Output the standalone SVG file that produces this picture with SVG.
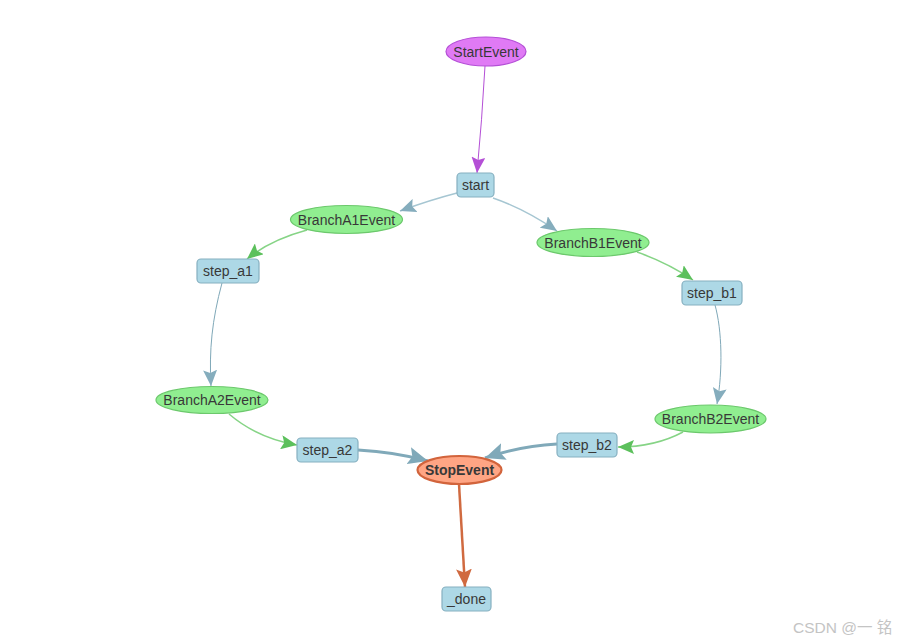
<svg xmlns="http://www.w3.org/2000/svg" width="901" height="642" viewBox="0 0 901 642">
<defs>
<style>
text{font-family:"Liberation Sans",Arial,sans-serif;font-size:14px;fill:#383838;text-anchor:middle;dominant-baseline:central}
.box{fill:#add8e6;stroke:#86b0c0;stroke-width:1.2}
.grn{fill:#90ee90;stroke:#6cc86c;stroke-width:1.2}
.e{fill:none}
.eb{stroke:#a6c6d2;stroke-width:1.5}
.ebt{stroke:#80a9b9;stroke-width:3}
.eg{stroke:#86d486;stroke-width:1.5}
.ev{stroke:#7fa8b8;stroke-width:1}
</style>
<marker id="aP" markerUnits="userSpaceOnUse" viewBox="0 0 16 14" markerWidth="16" markerHeight="14" refX="16" refY="7" orient="auto"><path d="M0,0 L16,7 L0,14 L3,7 z" fill="#b44fd6"/></marker>
<marker id="aB" markerUnits="userSpaceOnUse" viewBox="0 0 16 14" markerWidth="16" markerHeight="14" refX="16" refY="7" orient="auto"><path d="M0,0 L16,7 L0,14 L3,7 z" fill="#85adbd"/></marker>
<marker id="aBL" markerUnits="userSpaceOnUse" viewBox="0 0 16 14" markerWidth="20" markerHeight="17.5" refX="16" refY="7" orient="auto"><path d="M0,0 L16,7 L0,14 L3,7 z" fill="#80a9b9"/></marker>
<marker id="aG" markerUnits="userSpaceOnUse" viewBox="0 0 16 14" markerWidth="16" markerHeight="14" refX="16" refY="7" orient="auto"><path d="M0,0 L16,7 L0,14 L3,7 z" fill="#5cc05c"/></marker>
<marker id="aO" markerUnits="userSpaceOnUse" viewBox="0 0 16 14" markerWidth="18" markerHeight="15.75" refX="16" refY="7" orient="auto"><path d="M0,0 L16,7 L0,14 L3,7 z" fill="#d06a40"/></marker>
</defs>
<rect width="901" height="642" fill="#ffffff"/>
<g id="connectors">
<path class="e" d="M485,66 Q482,120 477,173" stroke="#b44fd6" stroke-width="1" marker-end="url(#aP)"/>
<path class="e eb" d="M457,193 Q430,200 400,211" marker-end="url(#aB)"/>
<path class="e eb" d="M493,198 Q525,209 557,231" marker-end="url(#aB)"/>
<path class="e eg" d="M307,230 Q270,240 247,259" marker-end="url(#aG)"/>
<path class="e ev" d="M222,283 C212,320 209,350 211,386" marker-end="url(#aB)"/>
<path class="e eg" d="M229,414 Q257,438 297,445" marker-end="url(#aG)"/>
<path class="e ebt" d="M358,450 Q395,452 428,461" marker-end="url(#aBL)"/>
<path class="e eg" d="M637,252 Q668,263 693,280" marker-end="url(#aG)"/>
<path class="e ev" d="M715,305 C722,330 723,370 717,404" marker-end="url(#aB)"/>
<path class="e eg" d="M683,432 Q655,447 618,447" marker-end="url(#aG)"/>
<path class="e ebt" d="M557,444 Q520,446 485,458" marker-end="url(#aBL)"/>
<path class="e" d="M459,484 L465,587" stroke="#d06a40" stroke-width="2.5" marker-end="url(#aO)"/>
</g>
<g id="StartEvent"><ellipse cx="486" cy="51.5" rx="40" ry="14.5" fill="#e07af5" stroke="#b44fd6" stroke-width="1.2"/><text x="486" y="51.5">StartEvent</text></g>
<g id="start"><rect class="box" x="457" y="173" width="37" height="24" rx="4"/><text x="475.5" y="185">start</text></g>
<g id="BranchA1Event"><ellipse class="grn" cx="346.5" cy="219.5" rx="56" ry="14"/><text x="346.5" y="219.5">BranchA1Event</text></g>
<g id="BranchB1Event"><ellipse class="grn" cx="593" cy="242.5" rx="56" ry="14"/><text x="593" y="242.5">BranchB1Event</text></g>
<g id="step_a1"><rect class="box" x="197" y="259" width="62" height="24" rx="4"/><text x="228" y="271">step_a1</text></g>
<g id="step_b1"><rect class="box" x="682" y="281" width="60" height="24" rx="4"/><text x="712" y="293">step_b1</text></g>
<g id="BranchA2Event"><ellipse class="grn" cx="212" cy="400" rx="56" ry="13.5"/><text x="212" y="400">BranchA2Event</text></g>
<g id="BranchB2Event"><ellipse class="grn" cx="710.5" cy="419" rx="55.5" ry="14"/><text x="710.5" y="419">BranchB2Event</text></g>
<g id="step_a2"><rect class="box" x="297" y="438" width="61" height="24" rx="4"/><text x="327.5" y="450">step_a2</text></g>
<g id="step_b2"><rect class="box" x="557" y="433" width="60" height="24" rx="4"/><text x="587" y="445">step_b2</text></g>
<g id="StopEvent"><ellipse cx="459.5" cy="470" rx="42" ry="14" fill="#ffa584" stroke="#d2643c" stroke-width="2.2"/><text x="459.5" y="470" font-weight="bold">StopEvent</text></g>
<g id="_done"><rect class="box" x="442" y="587" width="49" height="24" rx="4"/><text x="466.5" y="599">_done</text></g>
<text x="793" y="627" style="text-anchor:start;font-size:15.5px;fill:#c4c4c4;font-family:'Liberation Sans','Noto Sans CJK SC',sans-serif">CSDN @一 铭</text>
</svg>
